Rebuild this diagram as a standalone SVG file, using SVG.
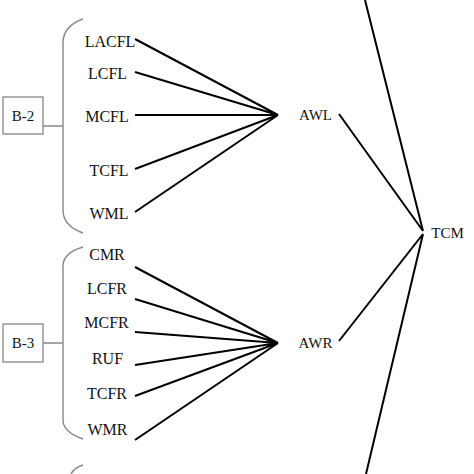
<svg xmlns="http://www.w3.org/2000/svg" width="474" height="474" viewBox="0 0 474 474">
<style>
text{font-family:"Liberation Serif","Times New Roman",serif;font-size:16px;fill:#111;text-anchor:middle}
.s{font-size:15px}
.box{fill:#fff;stroke:#888;stroke-width:1.3}
.br{fill:none;stroke:#888;stroke-width:1.4}
.c{stroke:#000;stroke-width:2;fill:none}
</style>
<rect width="474" height="474" fill="#fff"/>
<g id="B-2"><rect class="box" x="3" y="97" width="40" height="37"/><text class="s" x="23" y="121">B-2</text><path class="br" d="M43 126H63M83 19Q63 26 63 43V210Q63 226 83 233"/></g>
<g id="B-3"><rect class="box" x="3" y="324" width="40" height="38"/><text class="s" x="23" y="348">B-3</text><path class="br" d="M43 343H63M83 247Q63 253 63 266V420Q63 432 83 439"/></g>
<g id="B-4"><path class="br" d="M83 465Q74 468 71 474"/></g>
<g id="LACFL"><text x="110" y="47">LACFL</text></g>
<g id="LCFL"><text x="107.5" y="79">LCFL</text></g>
<g id="MCFL"><text x="107" y="122">MCFL</text></g>
<g id="TCFL"><text x="109" y="176">TCFL</text></g>
<g id="WML"><text x="109" y="219">WML</text></g>
<g id="CMR"><text x="107" y="260">CMR</text></g>
<g id="LCFR"><text x="107" y="294">LCFR</text></g>
<g id="MCFR"><text x="106.5" y="328">MCFR</text></g>
<g id="RUF"><text x="107.5" y="364">RUF</text></g>
<g id="TCFR"><text x="107" y="399">TCFR</text></g>
<g id="WMR"><text x="107.5" y="435">WMR</text></g>
<g id="AWL"><text class="s" x="315.5" y="119.5">AWL</text></g>
<g id="AWR"><text class="s" x="315.5" y="347.5">AWR</text></g>
<g id="TCM"><text class="s" x="447.5" y="238">TCM</text></g>
<g id="connectors">
<path class="c" d="M135 39L278 115M135 72L278 115M135 115L278 115M135 169L278 115M135 212L278 115"/>
<path class="c" d="M135 267L278 343M135 299L278 343M135 332L278 343M135 365L278 343M135 396L278 343M135 440L278 343"/>
<path class="c" d="M339 114L423 231M339 341L423 234M365 0L423 231M366 474L423 234"/>
</g>
</svg>
